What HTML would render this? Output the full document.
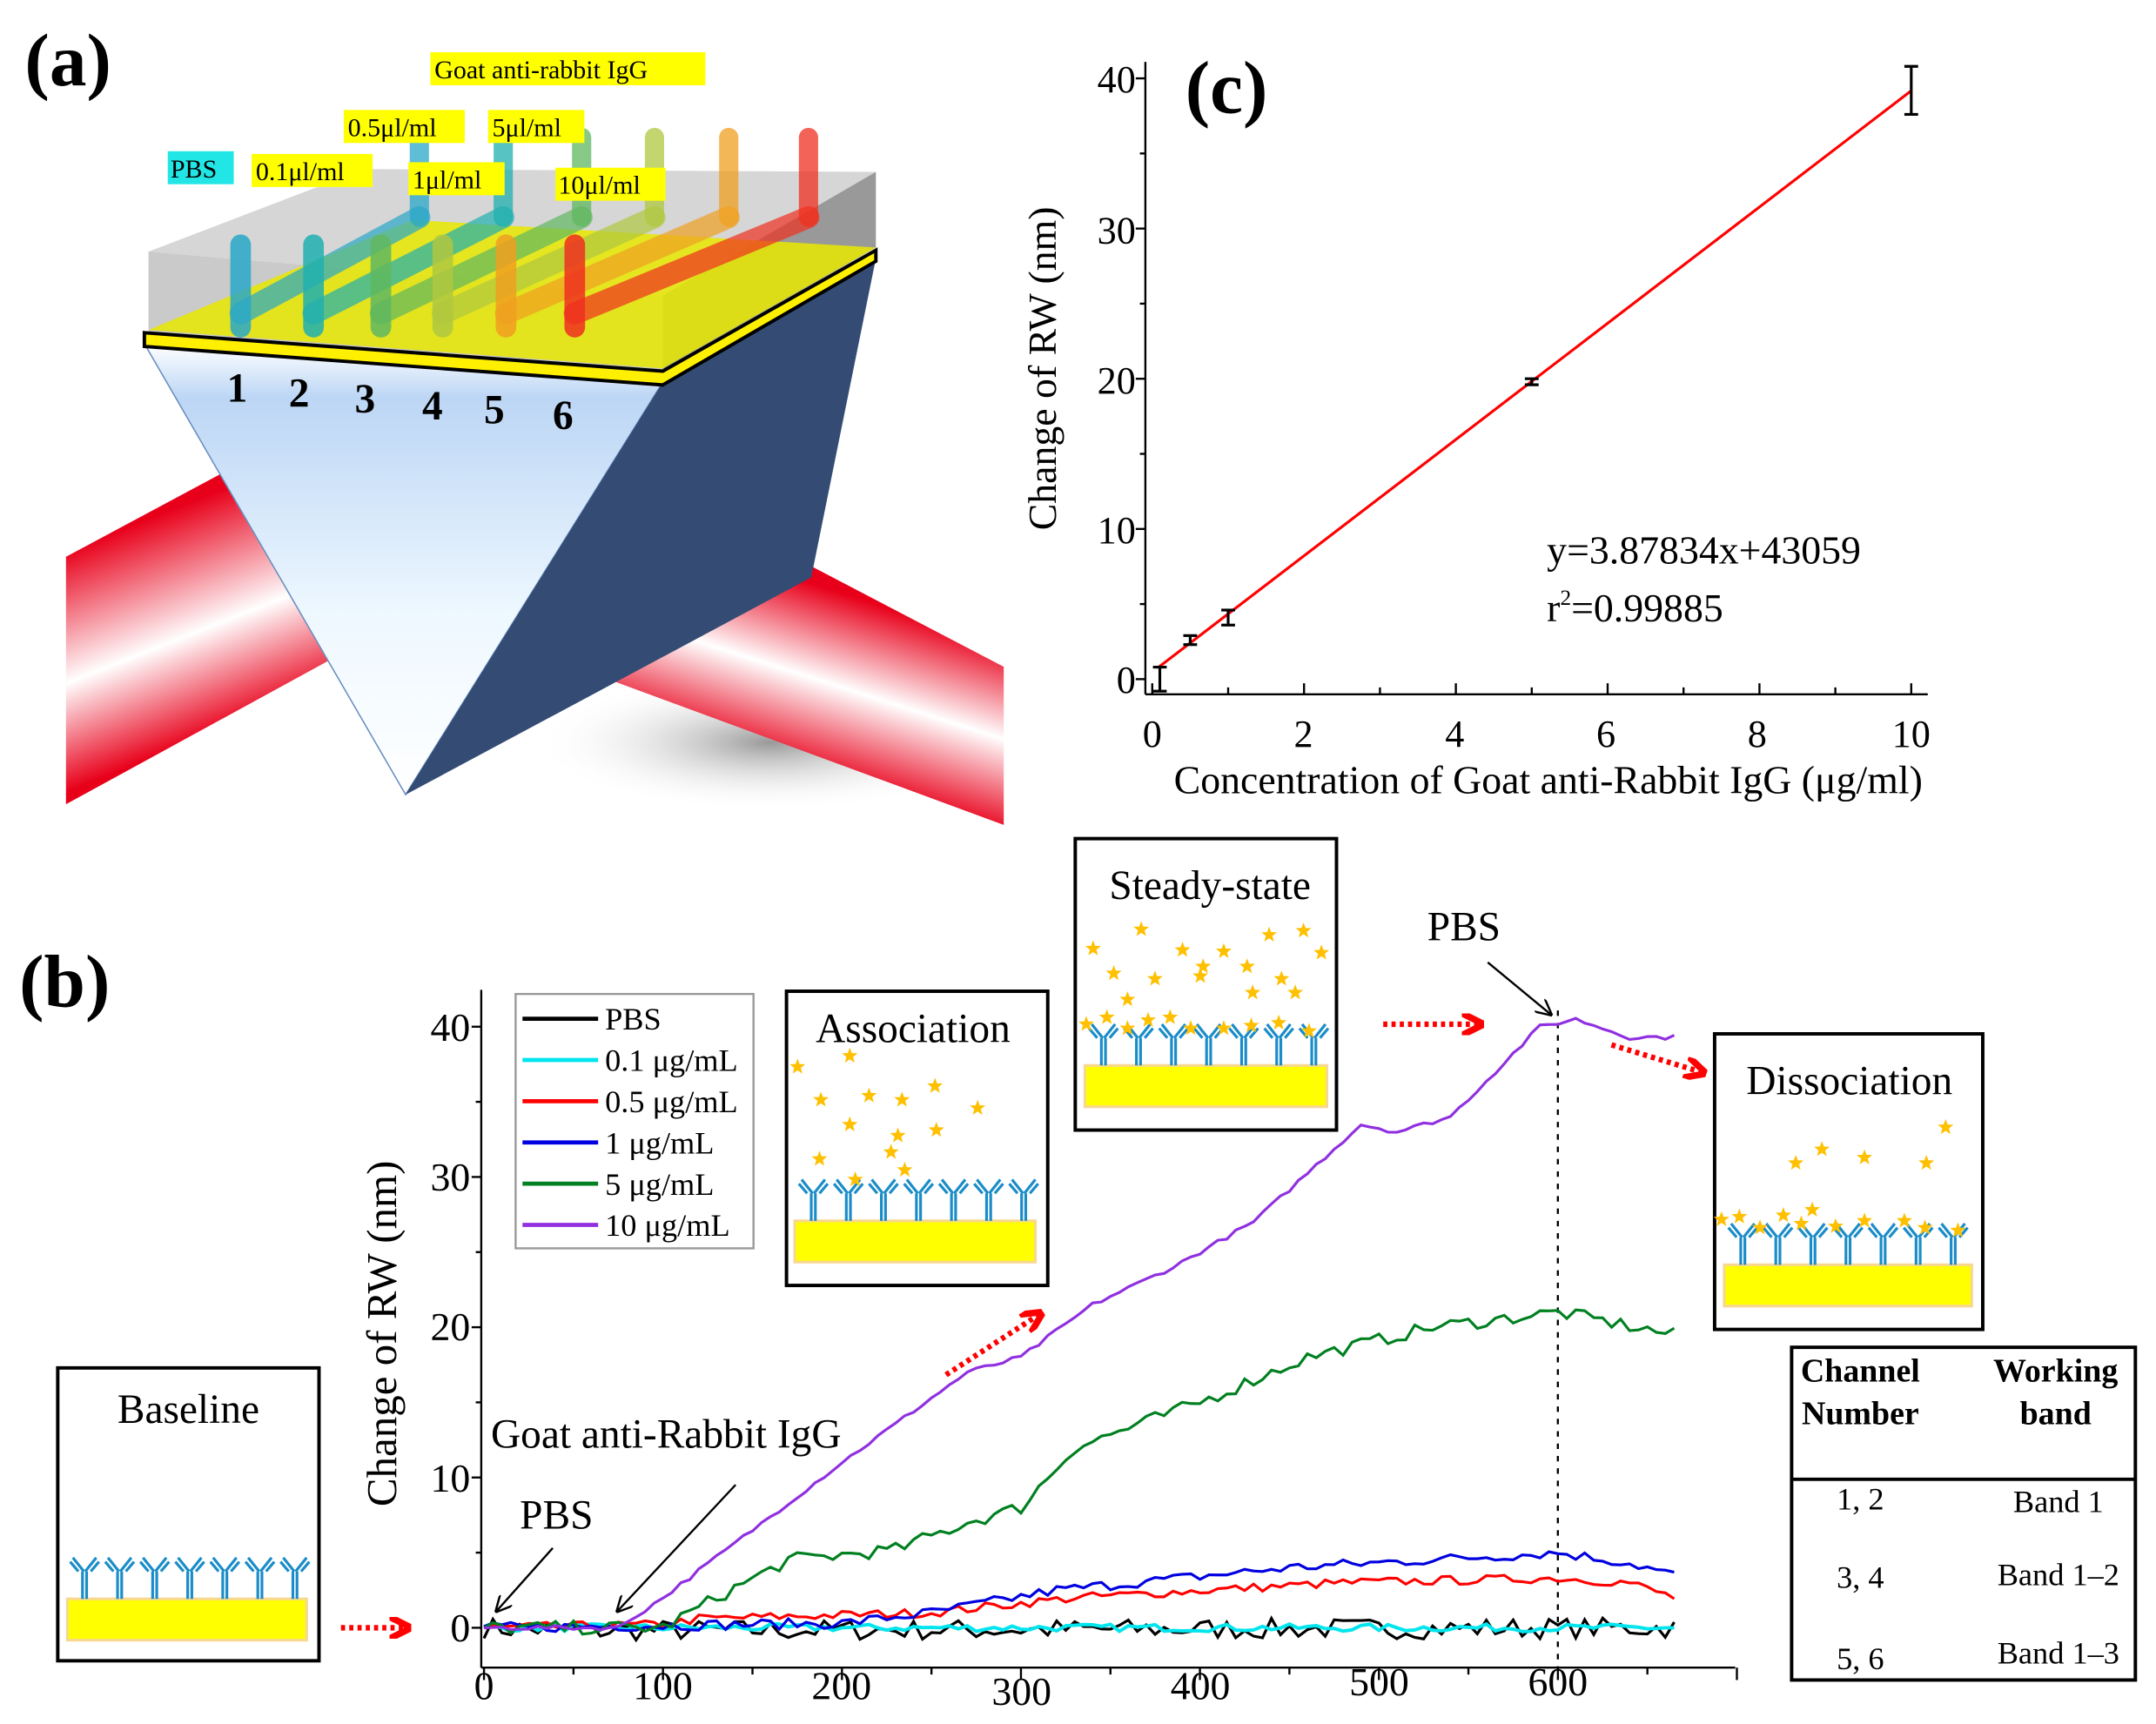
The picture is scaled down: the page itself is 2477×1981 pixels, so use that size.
<!DOCTYPE html>
<html><head><meta charset="utf-8"><style>
html,body{margin:0;padding:0;background:#fff;}
svg{display:block;}
text{font-family:"Liberation Serif","Times New Roman",serif;fill:#000;}
</style></head><body>
<svg id="s" width="2477" height="1981" viewBox="0 0 1568 1254" preserveAspectRatio="none" xmlns="http://www.w3.org/2000/svg" font-family="Liberation Serif, serif">
<defs>
<linearGradient id="beamL" gradientUnits="userSpaceOnUse" x1="80" y1="388" x2="140" y2="540"><stop offset="0" stop-color="#e8001a"/><stop offset="0.55" stop-color="#fff"/><stop offset="1" stop-color="#e8001a"/></linearGradient>
<linearGradient id="beamR" gradientUnits="userSpaceOnUse" x1="640" y1="440" x2="600" y2="565"><stop offset="0" stop-color="#e8001a"/><stop offset="0.5" stop-color="#fff"/><stop offset="1" stop-color="#e8001a"/></linearGradient>
<linearGradient id="prismL" x1="0" y1="0" x2="0" y2="1"><stop offset="0" stop-color="#fff"/><stop offset="0.12" stop-color="#bcd6f5"/><stop offset="0.6" stop-color="#eef8ff"/><stop offset="1" stop-color="#fff"/></linearGradient>
<radialGradient id="shad"><stop offset="0" stop-color="#999"/><stop offset="1" stop-color="#fff" stop-opacity="0"/></radialGradient>
<marker id="ah" viewBox="0 0 10 10" refX="9" refY="5" markerWidth="8" markerHeight="8" orient="auto"><path d="M0,0 L10,5 L0,10" fill="none" stroke="#000" stroke-width="1.3"/></marker>
<marker id="rh" viewBox="0 0 10 10" refX="8" refY="5" markerWidth="4" markerHeight="4" orient="auto"><path d="M0,0 L10,5 L0,10" fill="none" stroke="#f00" stroke-width="3"/></marker>
</defs>

<!-- Panel (a) -->
<text x="18" y="62" font-size="54" font-weight="bold">(a)</text>
<ellipse cx="560" cy="540" rx="170" ry="50" fill="url(#shad)"/>
<polygon points="48,405 160,345 240,480 48,585" fill="url(#beamL)"/>
<polygon points="510,370 730,485 730,600 445,495" fill="url(#beamR)"/>
<polygon points="105,250 482,278 295,578" fill="url(#prismL)" stroke="#6a8fc0" stroke-width="1"/>
<polygon points="482,278 637,188 590,420 295,578" fill="#344c74"/>
<!-- gray box -->
<polygon points="108,183 265,123 637,125 482,215" fill="#cfcfcf" opacity="0.85"/>
<polygon points="108,183 482,215 482,270 108,243" fill="#bdbdbd" opacity="0.8"/>
<polygon points="482,215 637,125 637,180 482,270" fill="#8e8e8e" opacity="0.9"/>
<!-- yellow plate -->
<polygon points="108,240 482,268 637,180 300,160" fill="#e8e800" opacity="0.85"/>
<polygon points="105,242 482,270 637,182 637,190 482,280 105,252" fill="#ffef00" stroke="#000" stroke-width="2.5"/>
<g id="chans"></g>
<g font-size="30" font-weight="bold">
<text x="165" y="292">1</text><text x="210" y="296">2</text><text x="258" y="300">3</text><text x="307" y="305">4</text><text x="352" y="308">5</text><text x="402" y="312">6</text>
</g>
<g font-size="19">
<rect x="313" y="38" width="200" height="24" fill="#ffff00"/><text x="316" y="57">Goat anti-rabbit IgG</text>
<rect x="122" y="110" width="48" height="24" fill="#22e6e6"/><text x="124" y="129">PBS</text>
<rect x="183" y="112" width="88" height="24" fill="#ffff00"/><text x="186" y="131">0.1μl/ml</text>
<rect x="250" y="80" width="88" height="24" fill="#ffff00"/><text x="253" y="99">0.5μl/ml</text>
<rect x="297" y="118" width="70" height="24" fill="#ffff00"/><text x="300" y="137">1μl/ml</text>
<rect x="355" y="80" width="70" height="24" fill="#ffff00"/><text x="358" y="99">5μl/ml</text>
<rect x="404" y="122" width="80" height="24" fill="#ffff00"/><text x="406" y="141">10μl/ml</text>
</g>

<!-- Panel (c) -->
<text x="862" y="82" font-size="54" font-weight="bold">(c)</text>
<g stroke="#000" stroke-width="1.5" fill="none">
<line x1="833" y1="45" x2="833" y2="505"/>
<line x1="833" y1="505" x2="1402" y2="505"/>
</g>
<g id="cticks" stroke="#000" stroke-width="1.5"></g>
<g font-size="28" text-anchor="end">
<text x="826" y="67">40</text><text x="826" y="177">30</text><text x="826" y="286">20</text><text x="826" y="395">10</text><text x="826" y="504">0</text>
</g>
<g font-size="28" text-anchor="middle">
<text x="838" y="543">0</text><text x="948" y="543">2</text><text x="1058" y="543">4</text><text x="1168" y="543">6</text><text x="1278" y="543">8</text><text x="1390" y="543">10</text>
</g>
<text x="1126" y="577" font-size="29" text-anchor="middle">Concentration of Goat anti-Rabbit IgG (μg/ml)</text>
<text transform="translate(768,268) rotate(-90)" font-size="29" text-anchor="middle">Change of RW (nm)</text>
<line x1="843" y1="485" x2="1390" y2="66" stroke="#f00" stroke-width="2"/>
<g id="ebars" stroke="#000" stroke-width="2"></g>
<text x="1125" y="410" font-size="29">y=3.87834x+43059</text>
<text x="1125" y="452" font-size="29">r<tspan font-size="16" dy="-12">2</tspan><tspan dy="12">=0.99885</tspan></text>

<!-- Panel (b) -->
<text x="14" y="732" font-size="54" font-weight="bold">(b)</text>
<g stroke="#000" stroke-width="1.5" fill="none">
<line x1="350" y1="720" x2="350" y2="1213"/>
<line x1="350" y1="1213" x2="1262" y2="1213"/>
</g>
<g id="bticks" stroke="#000" stroke-width="1.5"></g>
<g font-size="29" text-anchor="end">
<text x="342" y="757">40</text><text x="342" y="866">30</text><text x="342" y="975">20</text><text x="342" y="1085">10</text><text x="342" y="1194">0</text>
</g>
<g font-size="29" text-anchor="middle">
<text x="352" y="1236">0</text><text x="482" y="1236">100</text><text x="612" y="1236">200</text><text x="743" y="1240">300</text><text x="873" y="1236">400</text><text x="1003" y="1233">500</text><text x="1133" y="1233">600</text>
</g>
<text transform="translate(288,970) rotate(-90)" font-size="31" text-anchor="middle">Change of RW (nm)</text>
<line x1="1133" y1="735" x2="1133" y2="1213" stroke="#000" stroke-width="1.5" stroke-dasharray="4,5"/>
<g id="series" fill="none" stroke-width="2"></g>

<!-- legend -->
<rect x="375" y="723" width="173" height="185" fill="#fff" stroke="#999" stroke-width="1.5"/>
<g stroke-width="3">
<line x1="380" y1="741" x2="435" y2="741" stroke="#000"/>
<line x1="380" y1="771" x2="435" y2="771" stroke="#00e5ee"/>
<line x1="380" y1="801" x2="435" y2="801" stroke="#f00"/>
<line x1="380" y1="831" x2="435" y2="831" stroke="#0000e0"/>
<line x1="380" y1="861" x2="435" y2="861" stroke="#008020"/>
<line x1="380" y1="891" x2="435" y2="891" stroke="#9030e0"/>
</g>
<g font-size="23">
<text x="440" y="749">PBS</text><text x="440" y="779">0.1 μg/mL</text><text x="440" y="809">0.5 μg/mL</text><text x="440" y="839">1 μg/mL</text><text x="440" y="869">5 μg/mL</text><text x="440" y="899">10 μg/mL</text>
</g>

<!-- inset boxes -->
<g fill="#fff" stroke="#000" stroke-width="2.5">
<rect x="42" y="995" width="190" height="213"/>
<rect x="572" y="721" width="190" height="214"/>
<rect x="782" y="610" width="190" height="212"/>
<rect x="1247" y="752" width="195" height="215"/>
<rect x="1303" y="980" width="250" height="242"/>
</g>
<line x1="1303" y1="1076" x2="1553" y2="1076" stroke="#000" stroke-width="2.5"/>
<g font-size="30" text-anchor="middle">
<text x="137" y="1035">Baseline</text>
<text x="664" y="758">Association</text>
<text x="880" y="654">Steady-state</text>
<text x="1345" y="796">Dissociation</text>
</g>
<g fill="#ffff00" stroke="#f8d890" stroke-width="2">
<rect x="49" y="1163" width="174" height="30"/>
<rect x="578" y="888" width="175" height="30"/>
<rect x="789" y="775" width="176" height="30"/>
<rect x="1254" y="920" width="180" height="30"/>
</g>
<g id="abs" fill="none" stroke="#1a8cc8" stroke-width="3"></g>
<g id="stars" fill="#ffc000"></g>

<g font-size="24" font-weight="bold" text-anchor="middle">
<text x="1353" y="1005">Channel</text><text x="1353" y="1036">Number</text>
<text x="1495" y="1005">Working</text><text x="1495" y="1036">band</text>
</g>
<g font-size="23" text-anchor="middle">
<text x="1353" y="1098">1, 2</text><text x="1497" y="1100">Band 1</text>
<text x="1353" y="1155">3, 4</text><text x="1497" y="1153">Band 1–2</text>
<text x="1353" y="1214">5, 6</text><text x="1497" y="1210">Band 1–3</text>
</g>

<!-- annotations -->
<g font-size="30">
<text x="357" y="1053">Goat anti-Rabbit IgG</text>
<text x="378" y="1112">PBS</text>
<text x="1038" y="684">PBS</text>
</g>
<g stroke="#000" stroke-width="1.5" marker-end="url(#ah)">
<line x1="402" y1="1126" x2="361" y2="1172"/>
<line x1="535" y1="1080" x2="449" y2="1172"/>
<line x1="1082" y1="700" x2="1128" y2="738"/>
</g>
<g stroke="#f00" stroke-width="4" stroke-dasharray="3,3" marker-end="url(#rh)">
<line x1="248" y1="1184" x2="296" y2="1184"/>
<line x1="688" y1="1000" x2="756" y2="956"/>
<line x1="1006" y1="745" x2="1076" y2="745"/>
<line x1="1172" y1="760" x2="1238" y2="780"/>
</g>
</svg>
<script>
var NS="http://www.w3.org/2000/svg";
function el(p,t,a){var e=document.createElementNS(NS,t);for(var k in a)e.setAttribute(k,a[k]);document.getElementById(p).appendChild(e);return e;}
var cols=["#2aa8c8","#20b0b0","#60b860","#b0c840","#f0a020","#f03020"];
var fx=[175,228,277,322,368,418];
for(var i=0;i<6;i++){
 var x=fx[i],bx=x+130+ i*8;
 el("chans","line",{x1:x,y1:228,x2:bx,y2:158,stroke:cols[i],"stroke-width":16,opacity:0.7,"stroke-linecap":"round"});
 el("chans","line",{x1:x,y1:178,x2:x,y2:238,stroke:cols[i],"stroke-width":15,opacity:0.85,"stroke-linecap":"round"});
 el("chans","line",{x1:bx,y1:100,x2:bx,y2:158,stroke:cols[i],"stroke-width":14,opacity:0.75,"stroke-linecap":"round"});
}
for(var v=0;v<=40;v+=5){var y=494-v*10.925;el("cticks","line",{x1:833,y1:y,x2:(v%10==0?826:829),y2:y});}
for(var v=0;v<=10;v+=1){var x=838+v*55.2;el("cticks","line",{x1:x,y1:505,x2:x,y2:(v%2==0?497:500)});}
var eb=[[0.1,0,0.8],[0.5,2.6,0.3],[1,4.1,0.5],[5,19.8,0.2],[10,39.2,1.6]];
eb.forEach(function(d){var x=838+d[0]*55.2,y1=494-(d[1]+d[2])*10.925,y2=494-(d[1]-d[2])*10.925;
 el("ebars","line",{x1:x,y1:y1,x2:x,y2:y2});el("ebars","line",{x1:x-5,y1:y1,x2:x+5,y2:y1});el("ebars","line",{x1:x-5,y1:y2,x2:x+5,y2:y2});});
for(var v=0;v<=40;v+=5){var y=1184-v*10.93;el("bticks","line",{x1:350,y1:y,x2:(v%10==0?343:346),y2:y});}
for(var v=0;v<=700;v+=50){var x=352+v*1.3017;el("bticks","line",{x1:x,y1:1213,x2:x,y2:(v%100==0?1222:1218)});}
var seed=7;function rnd(){seed=(seed*16807)%2147483647;return seed/2147483647-0.5;}
function interp(pts,t){for(var i=1;i<pts.length;i++){if(t<=pts[i][0]){var a=pts[i-1],b=pts[i];return a[1]+(b[1]-a[1])*(t-a[0])/(b[0]-a[0]);}}return pts[pts.length-1][1];}
function series(pts,col,noise,w){var d="";for(var t=0;t<=665;t+=5){var v=interp(pts,t)+rnd()*noise;var x=352+t*1.3017,y=1184-v*10.93;d+=(t?"L":"M")+x.toFixed(1)+","+y.toFixed(1);}
 el("series","path",{d:d,stroke:col,"stroke-width":w||2});}
series([[0,0],[50,-0.2],[665,0]],"#000",1.4);
series([[0,0],[665,0]],"#00e5ee",0.5,2.5);
series([[0,0],[100,0.2],[120,0.6],[250,1],[330,2],[480,3],[600,3.3],[640,3],[665,2]],"#f00",0.6);
series([[0,0],[200,0.3],[250,1],[320,2.5],[450,4],[600,5],[640,4.3],[665,3.5]],"#0000e0",0.7);
series([[0,0],[100,0],[130,2],[170,4.5],[230,5.2],[270,7],[300,8],[330,12],[400,15],[460,18],[530,20],[600,21],[665,19.5]],"#008020",0.9);
series([[0,0],[75,0],[100,2],[150,6.5],[200,11],[270,17],[300,18],[340,21.5],[385,24],[430,27],[490,33.5],[510,33],[540,34],[590,40],[610,40.5],[640,39.3],[670,39.3]],"#9030e0",0.3);
function ab(x,base){var s="M"+x+","+base+" L"+x+","+(base-20)+" M"+(x-3)+","+base+" L"+(x-3)+","+(base-20)+
 " M"+(x-2)+","+(base-20)+" L"+(x-10)+","+(base-30)+" M"+(x-6)+","+(base-20)+" L"+(x-12)+","+(base-27)+
 " M"+(x-1)+","+(base-20)+" L"+(x+7)+","+(base-30)+" M"+(x+3)+","+(base-20)+" L"+(x+9)+","+(base-27);
 el("abs","path",{d:s,"stroke-width":2});}
[[55,1163,7],[585,888,7],[796,775,7],[1261,920,7]].forEach(function(g){for(var i=0;i<g[2];i++)ab(g[0]+8+i*25.5,g[1]);});
function star(x,y){var p="";for(var k=0;k<10;k++){var r=k%2?2.5:6,a=-Math.PI/2+k*Math.PI/5;p+=(x+r*Math.cos(a)).toFixed(1)+","+(y+r*Math.sin(a)).toFixed(1)+" ";}el("stars","polygon",{points:p});}
[[580,776],[618,768],[632,797],[656,800],[680,790],[597,800],[653,826],[711,806],[618,818],[648,838],[681,822],[596,843],[622,858],[658,851]].forEach(function(p){star(p[0],p[1]);});
[[795,690],[830,676],[860,691],[890,692],[923,680],[948,677],[810,708],[840,712],[875,703],[907,703],[932,712],[961,693],[820,727],[873,710],[911,722],[942,722],[790,745],[805,740],[820,748],[835,742],[851,740],[866,748],[890,748],[910,746],[930,744],[952,750]].forEach(function(p){star(p[0],p[1]);});
[[1306,846],[1325,836],[1356,842],[1401,846],[1415,820],[1252,887],[1265,885],[1280,893],[1297,884],[1310,890],[1318,880],[1335,892],[1356,888],[1385,888],[1400,893],[1424,895]].forEach(function(p){star(p[0],p[1]);});
</script>
</body></html>
